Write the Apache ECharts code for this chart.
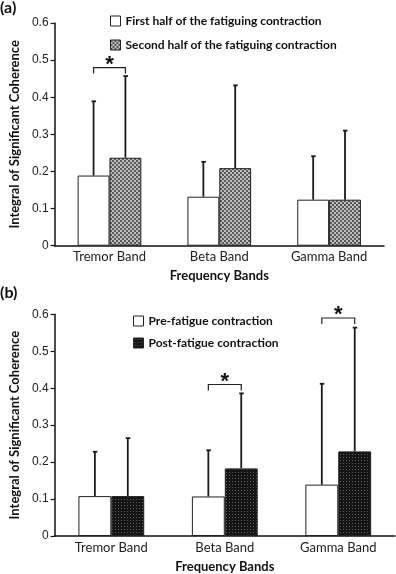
<!DOCTYPE html>
<html>
<head>
<meta charset="utf-8">
<style>
  html, body { margin: 0; padding: 0; background: #fff; }
  #chart { width: 396px; height: 574px; }
</style>
<script src="https://cdn.jsdelivr.net/npm/echarts@6/dist/echarts.min.js"></script>
</head>
<body>
<div id="chart"></div>
<script>
// data
var categories = ["Tremor Band", "Beta Band", "Gamma Band"];
var yTicks = [0, 0.1, 0.2, 0.3, 0.4, 0.5, 0.6];

// (a)
var firstHalf = [0.189, 0.132, 0.124];
var firstHalfSd = [0.200, 0.094, 0.117];
var secondHalf = [0.237, 0.209, 0.124];
var secondHalfSd = [0.220, 0.223, 0.186];
var sigA = [[0, 0.48]];

// (b)
var preFatigue = [0.108, 0.107, 0.139];
var preFatigueSd = [0.120, 0.125, 0.273];
var postFatigue = [0.108, 0.183, 0.229];
var postFatigueSd = [0.157, 0.203, 0.335];
var sigB = [[1, 0.41], [2, 0.59]];

var BAR_FRAC = 0.29;
var FONT = "Lato";

// fill patterns
function makePattern(size, bg, fg, cells) {
  var c = document.createElement("canvas");
  c.width = size; c.height = size;
  var ctx = c.getContext("2d");
  ctx.fillStyle = bg;
  ctx.fillRect(0, 0, size, size);
  ctx.fillStyle = fg;
  cells.forEach(function (p) { ctx.fillRect(p[0], p[1], p[2], p[3]); });
  return { image: c, repeat: "repeat" };
}
var checker = makePattern(4, "#bdbdbd", "#5a5a5a", [[0, 0, 2, 2], [2, 2, 2, 2]]);
var dotted = makePattern(3, "#151515", "#5c5c5c", [[1, 1, 1, 1]]);

function withErr(mean, sd) {
  return mean.map(function (m, i) { return [i, m, m + sd[i]]; });
}

function errRender(side) {
  return function (params, api) {
    var c = api.value(0);
    var lo = api.coord([c, api.value(1)]);
    var hi = api.coord([c, api.value(2)]);
    var x = lo[0] + side * api.size([1, 0])[0] * BAR_FRAC / 2;
    return {
      type: "group",
      children: [
        { type: "line", shape: { x1: x, y1: lo[1], x2: x, y2: hi[1] }, style: { stroke: "#1a1a1a", lineWidth: 1.8 } },
        { type: "line", shape: { x1: x - 2, y1: hi[1], x2: x + 2.5, y2: hi[1] }, style: { stroke: "#1a1a1a", lineWidth: 1.8 } }
      ]
    };
  };
}

function sigRender(params, api) {
  var p = api.coord([api.value(0), api.value(1)]);
  var half = api.size([1, 0])[0] * BAR_FRAC / 2;
  return {
    type: "group",
    children: [
      {
        type: "polyline",
        shape: { points: [[p[0] - half, p[1] + 6], [p[0] - half, p[1]], [p[0] + half, p[1]], [p[0] + half, p[1] + 6]] },
        style: { stroke: "#222", lineWidth: 1.2, fill: null }
      },
      {
        type: "text",
        style: { text: "*", x: p[0], y: p[1] - 3, align: "center", verticalAlign: "middle", font: "bold 22px 'Liberation Sans'", fill: "#111" }
      }
    ]
  };
}

function yAxisOf(grid, gap) {
  return {
    type: "value", gridIndex: grid, min: 0, max: 0.6, interval: 0.1,
    name: "Integral of Significant Coherence", nameLocation: "middle", nameGap: gap,
    nameTextStyle: { fontFamily: FONT, fontWeight: "bold", fontSize: 13, color: "#111" },
    axisLine: { show: true, lineStyle: { color: "#111", width: 1.5 } },
    axisTick: { show: true, length: 4, lineStyle: { color: "#111", width: 1.2 } },
    axisLabel: { margin: 6, fontFamily: "Liberation Sans", fontSize: 12, color: "#222" },
    splitLine: { show: false }
  };
}

function xAxisOf(grid, gap) {
  return {
    type: "category", gridIndex: grid, data: categories,
    name: "Frequency Bands", nameLocation: "middle", nameGap: gap,
    nameTextStyle: { fontFamily: FONT, fontWeight: "bold", fontSize: 13, color: "#111" },
    axisLine: { lineStyle: { color: "#111", width: 1.5 } },
    axisTick: { length: 4, lineStyle: { color: "#111", width: 1.2 } },
    axisLabel: { margin: 5, fontFamily: FONT, fontSize: 13, color: "#222" }
  };
}

function barOf(name, data, color, xi) {
  return {
    name: name, type: "bar", xAxisIndex: xi, yAxisIndex: xi,
    data: data, barWidth: (BAR_FRAC * 100) + "%", barGap: "0%",
    itemStyle: { color: color, borderColor: "#222", borderWidth: 1 },
    silent: true
  };
}

function customOf(data, render, xi) {
  return { type: "custom", xAxisIndex: xi, yAxisIndex: xi, data: data, renderItem: render, silent: true, z: 3 };
}

var legendText = { fontFamily: FONT, fontWeight: "bold", fontSize: 12, color: "#111", lineHeight: 14 };

var myChart = echarts.init(document.getElementById("chart"));

var option = {
  animation: false,
  backgroundColor: "#fff",
  title: [
    { text: "(a)", left: 0, top: 0, padding: 0, textStyle: { fontFamily: FONT, fontWeight: "bold", fontSize: 16, color: "#111" } },
    { text: "(b)", left: 0, top: 285, padding: 0, textStyle: { fontFamily: FONT, fontWeight: "bold", fontSize: 16, color: "#111" } }
  ],
  legend: [
    {
      data: ["First half of the fatiguing contraction", "Second half of the fatiguing contraction"],
      orient: "vertical", left: 110, top: 14, padding: 0, itemGap: 10,
      icon: "rect", itemWidth: 10, itemHeight: 10, itemStyle: { borderColor: "#222", borderWidth: 1 },
      textStyle: legendText, selectedMode: false
    },
    {
      data: ["Pre-fatigue contraction", "Post-fatigue contraction"],
      orient: "vertical", left: 133, top: 314, padding: 0, itemGap: 8,
      icon: "rect", itemWidth: 10, itemHeight: 10, itemStyle: { borderColor: "#222", borderWidth: 1 },
      textStyle: legendText, selectedMode: false
    }
  ],
  grid: [
    { left: 49, right: 12, top: 23, height: 222.7 },
    { left: 51, right: 1, top: 314.3, height: 222.7 }
  ],
  xAxis: [xAxisOf(0, 24), xAxisOf(1, 24)],
  yAxis: [yAxisOf(0, 30), yAxisOf(1, 32)],
  series: [
    barOf("First half of the fatiguing contraction", firstHalf, "#fff", 0),
    barOf("Second half of the fatiguing contraction", secondHalf, checker, 0),
    customOf(withErr(firstHalf, firstHalfSd), errRender(-1), 0),
    customOf(withErr(secondHalf, secondHalfSd), errRender(1), 0),
    customOf(sigA, sigRender, 0),
    barOf("Pre-fatigue contraction", preFatigue, "#fff", 1),
    barOf("Post-fatigue contraction", postFatigue, dotted, 1),
    customOf(withErr(preFatigue, preFatigueSd), errRender(-1), 1),
    customOf(withErr(postFatigue, postFatigueSd), errRender(1), 1),
    customOf(sigB, sigRender, 1)
  ]
};

myChart.setOption(option);
</script>
</body>
</html>
